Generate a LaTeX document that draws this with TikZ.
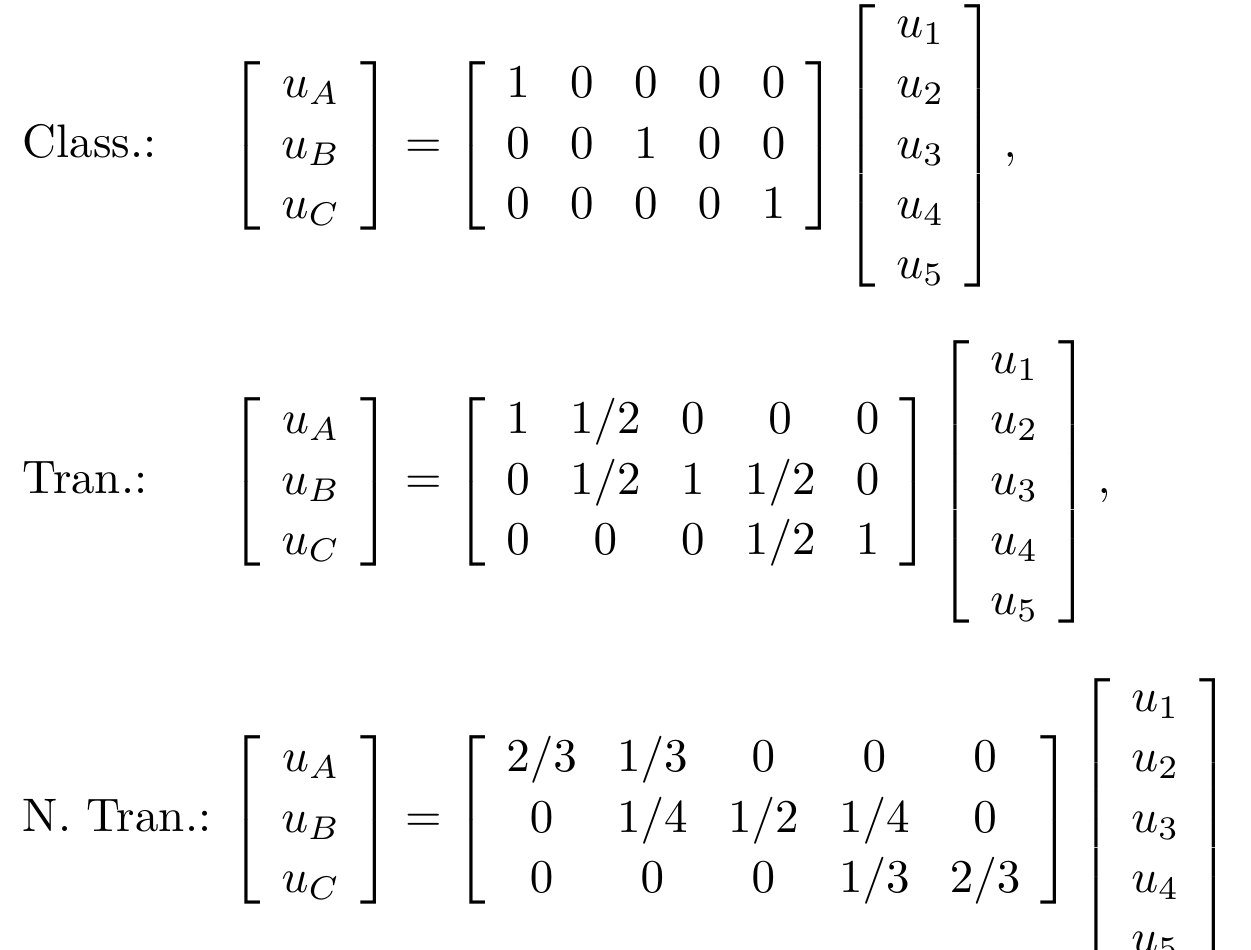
\documentclass[tikz,border=0pt]{standalone}
\usepackage{amsmath}
\begin{document}
\begin{tikzpicture}[x=1pt,y=1pt,eq/.style={anchor=west,inner sep=0pt,scale=0.94,transform shape}]
\setlength{\arraycolsep}{4.3pt}
\renewcommand{\arraystretch}{1.065}
\useasboundingbox (0,0) rectangle (250.2,-190);
\node[eq] (eq1) at (4.4,-29.2) {\makebox[44pt][l]{Class.:}$\left[\begin{array}{c}u_A\\u_B\\u_C\end{array}\right]=\left[\begin{array}{ccccc}1&0&0&0&0\\0&0&1&0&0\\0&0&0&0&1\end{array}\right]\left[\begin{array}{c}u_1\\u_2\\u_3\\u_4\\u_5\end{array}\right],$};
\node[eq] (eq2) at (4.4,-96.4) {\makebox[44pt][l]{Tran.:}$\left[\begin{array}{c}u_A\\u_B\\u_C\end{array}\right]=\left[\begin{array}{ccccc}1&1/2&0&0&0\\0&1/2&1&1/2&0\\0&0&0&1/2&1\end{array}\right]\left[\begin{array}{c}u_1\\u_2\\u_3\\u_4\\u_5\end{array}\right],$};
\node[eq] (eq3) at (4.4,-164) {\makebox[44pt][l]{N. Tran.:}$\left[\begin{array}{c}u_A\\u_B\\u_C\end{array}\right]=\left[\begin{array}{ccccc}2/3&1/3&0&0&0\\0&1/4&1/2&1/4&0\\0&0&0&1/3&2/3\end{array}\right]\left[\begin{array}{c}u_1\\u_2\\u_3\\u_4\\u_5\end{array}\right]$};
\end{tikzpicture}
\end{document}
